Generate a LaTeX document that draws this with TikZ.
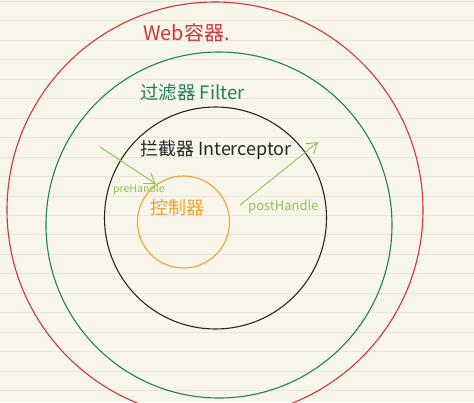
\documentclass[tikz,border=0pt]{standalone}
\usepackage{fontspec}
\newfontfamily\cjk{Noto Sans CJK SC}
\usetikzlibrary{arrows.meta}
\definecolor{paper}{HTML}{F8F6EA}
\definecolor{rule}{HTML}{E9E5D8}
\definecolor{webred}{HTML}{D0343C}
\definecolor{filtergreen}{HTML}{1F7F5A}
\definecolor{ctrlorange}{HTML}{F0A030}
\definecolor{handgreen}{HTML}{8CC152}
\begin{document}
\begin{tikzpicture}[x=1pt, y=-1pt,
    ring/.style={draw=#1, line width=1.1pt, circle, inner sep=0pt},
    label text/.style={text=#1, inner sep=0pt, anchor=west},
    hand arrow/.style={draw=handgreen, line width=0.9pt,
                       -{Straight Barb[length=10pt, width=13pt]}},
  ]
    % paper
    \useasboundingbox (0,0) rectangle (474,402);
    \clip (0,0) rectangle (474,402);
    \fill[paper] (0,0) rectangle (474,402);
    \foreach \k in {0,...,20}
      \draw[rule, line width=1pt] (0,1.5+19.45*\k) -- (474,1.5+19.45*\k);

    % rings
    \node[ring=webred, minimum size=416pt] (web) at (215,210) {};
    \node[ring=filtergreen, minimum size=346pt] (filter) at (219,225) {};
    \node[ring=black!85, minimum size=222pt] (interceptor) at (215.5,218) {};
    \node[ring=ctrlorange, minimum size=92pt] (controller) at (183.5,222) {};

    % labels
    \node[label text=webred, font=\cjk\fontsize{20}{20}\selectfont]
      (webtext) at (143,33) {Web容器.};
    \node[label text=filtergreen, font=\cjk\fontsize{18.5}{18.5}\selectfont]
      (filtertext) at (140,93) {过滤器 Filter};
    \node[label text=black!85, font=\cjk\fontsize{18}{18}\selectfont]
      (interceptortext) at (140,150) {拦截器 Interceptor};
    \node[label text=ctrlorange, font=\cjk\fontsize{18}{18}\selectfont]
      (controllertext) at (150,208) {控制器};
    \node[label text=handgreen, font=\cjk\fontsize{10.5}{10.5}\selectfont]
      (pretext) at (113,190) {preHandle};
    \node[label text=handgreen, font=\cjk\fontsize{13}{13}\selectfont]
      (posttext) at (248,207) {postHandle};

    % handler arrows
    \coordinate (prestart) at (100,147);
    \coordinate (preend) at (156,184);
    \coordinate (poststart) at (240,205);
    \coordinate (postend) at (318,142);
    \draw[hand arrow] (prestart) -- (preend);
    \draw[hand arrow] (poststart) -- (postend);
\end{tikzpicture}
\end{document}
